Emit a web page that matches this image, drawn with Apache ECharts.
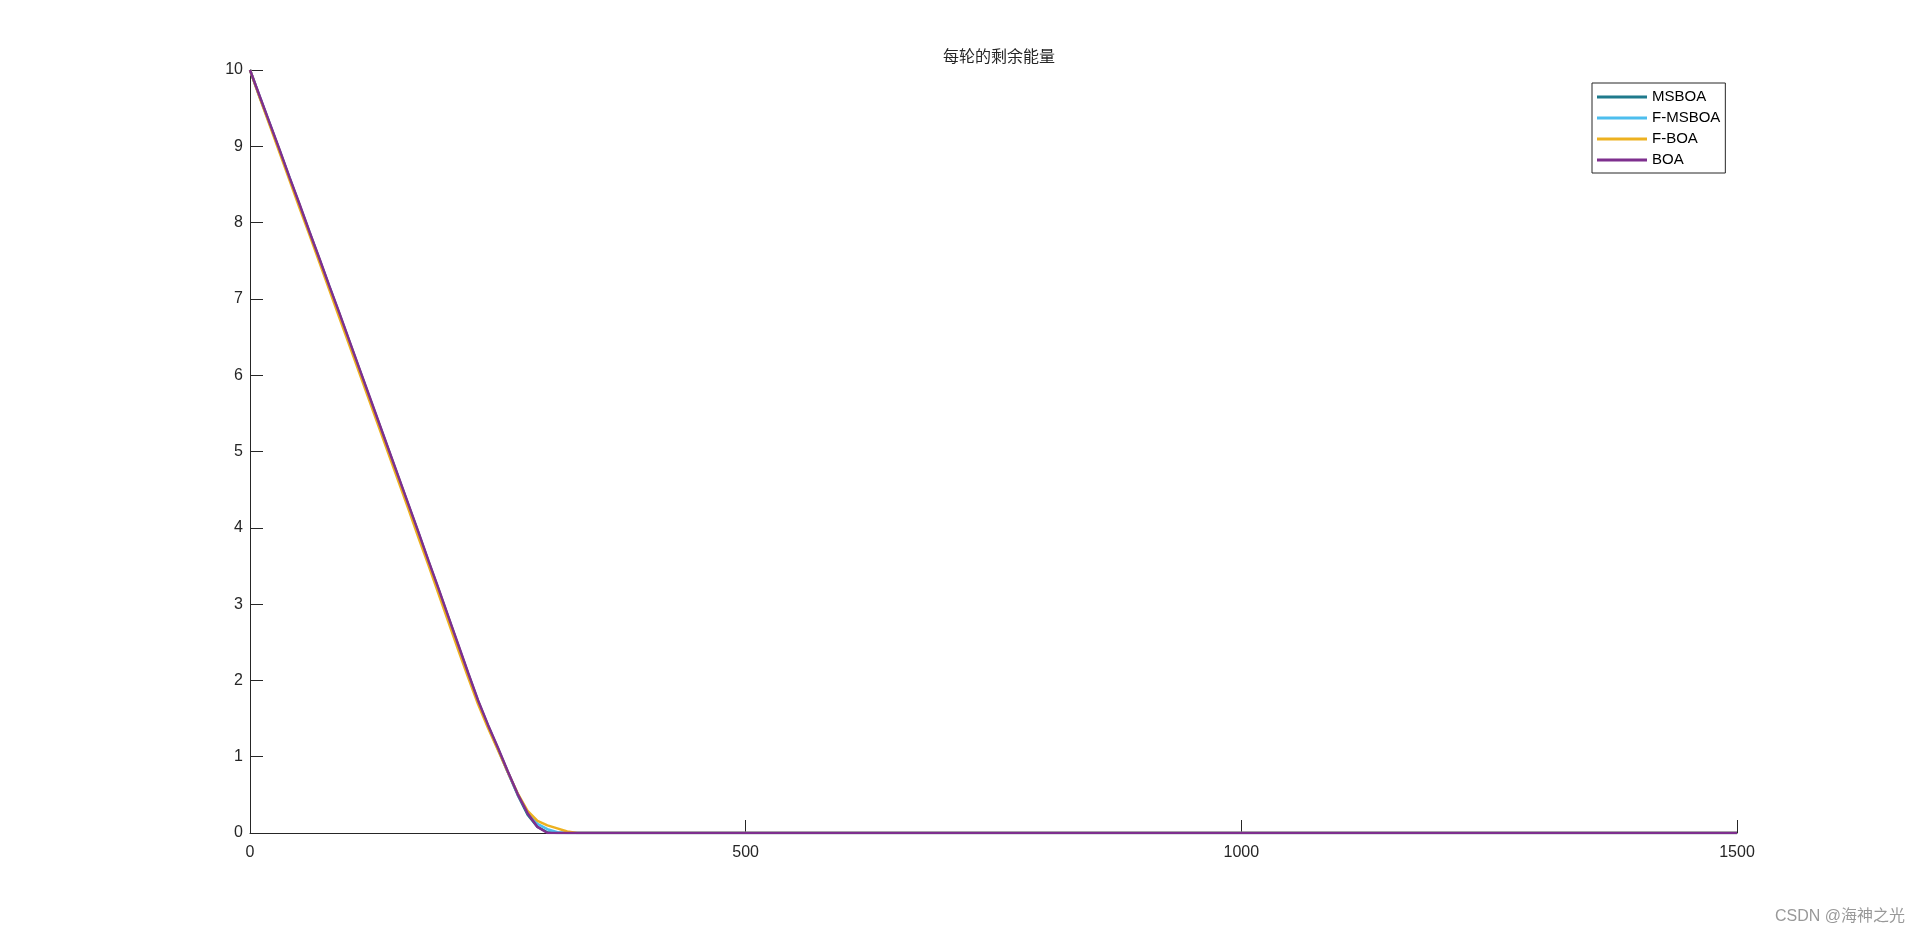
<!DOCTYPE html>
<html>
<head>
<meta charset="utf-8">
<script src="https://cdn.jsdelivr.net/npm/echarts@6/dist/echarts.min.js"></script>
<style>
html,body{margin:0;padding:0;background:#fff;}
#chart{width:1920px;height:937px;}
</style>
</head>
<body>
<div id="chart"></div>
<script>
// Round numbers (x axis)
const rounds = [0,10,20,30,40,50,60,70,80,90,100,110,120,130,140,150,160,170,180,190,200,210,220,230,240,250,260,270,280,290,300,310,320,330,1500];
const seriesNames = ['MSBOA','F-MSBOA','F-BOA','BOA'];
const msboa  = [10,9.64,9.29,8.94,8.58,8.23,7.87,7.52,7.16,6.81,6.45,6.09,5.73,5.37,5.01,4.65,4.29,3.93,3.56,3.20,2.83,2.46,2.09,1.73,1.41,1.11,0.80,0.50,0.24,0.08,0.01,0,0,0,0];
const fmsboa = [10,9.64,9.29,8.93,8.58,8.22,7.87,7.51,7.16,6.80,6.44,6.08,5.72,5.36,5.00,4.64,4.28,3.92,3.55,3.19,2.82,2.45,2.08,1.72,1.40,1.10,0.80,0.51,0.27,0.12,0.05,0.01,0,0,0];
const fboa   = [10,9.63,9.27,8.91,8.55,8.19,7.84,7.48,7.12,6.76,6.40,6.04,5.68,5.32,4.96,4.60,4.24,3.87,3.51,3.14,2.77,2.40,2.04,1.69,1.38,1.09,0.80,0.52,0.29,0.16,0.10,0.06,0.02,0,0];
const boa    = [10,9.65,9.30,8.95,8.59,8.24,7.88,7.53,7.17,6.82,6.46,6.10,5.74,5.38,5.02,4.66,4.30,3.94,3.57,3.21,2.84,2.47,2.10,1.74,1.42,1.12,0.81,0.51,0.26,0.08,0,0,0,0,0];
const xTicks = [0,500,1000,1500];
const yTicks = [0,1,2,3,4,5,6,7,8,9,10];
const colors = ['#1f7a8c','#4dbeee','#edb120','#7e2f8e'];
const titleText = '每轮的剩余能量';
const watermark = 'CSDN @海神之光';

const allData = [msboa, fmsboa, fboa, boa];
const chart = echarts.init(document.getElementById('chart'));
const axisColor = '#262626';
const labelFont = 'Arial, "Liberation Sans"';
chart.setOption({
  animation: false,
  backgroundColor: '#fff',
  title: {
    text: titleText,
    left: 994, top: 43, textAlign: 'center',
    textStyle: {fontFamily: '"Noto Sans CJK SC"', fontSize: 16, fontWeight: 'normal', color: '#262626'}
  },
  legend: {
    orient: 'vertical',
    left: 1592, top: 83,
    padding: [6, 5, 5, 5],
    itemWidth: 50, itemHeight: 3, itemGap: 5,
    itemTextGap: 4,
    icon: 'rect',
    backgroundColor: '#fff',
    borderColor: '#262626', borderWidth: 1,
    textStyle: {fontFamily: labelFont, fontSize: 15, color: '#000', lineHeight: 16},
    data: seriesNames
  },
  grid: {left: 250, right: 183, top: 70, bottom: 104, containLabel: false},
  xAxis: {
    type: 'value', min: 0, max: 1500, interval: 500,
    axisLine: {show: true, lineStyle: {color: axisColor, width: 1}},
    axisTick: {show: true, inside: true, length: 13, lineStyle: {color: axisColor}},
    axisLabel: {color: axisColor, fontSize: 16, fontFamily: labelFont, margin: 12,
      formatter: v => String(v)},
    splitLine: {show: false}
  },
  yAxis: {
    type: 'value', min: 0, max: 10, interval: 1,
    axisLine: {show: true, lineStyle: {color: axisColor, width: 1}},
    axisTick: {show: true, inside: true, length: 13, lineStyle: {color: axisColor}},
    axisLabel: {color: axisColor, fontSize: 16, fontFamily: labelFont, margin: 7,
      formatter: v => String(v)},
    splitLine: {show: false}
  },
  series: seriesNames.map((n, i) => ({
    name: n, type: 'line', showSymbol: false, symbol: 'none',
    data: rounds.map((r, k) => [r, allData[i][k]]),
    lineStyle: {color: colors[i], width: 2.5},
    itemStyle: {color: colors[i]},
    z: 2 + i
  })),
  graphic: [{
    type: 'text', right: 15, top: 909,
    style: {text: watermark, fill: '#999', font: '16px Arial, "Noto Sans CJK SC"'}
  }]
});
</script>
</body>
</html>
